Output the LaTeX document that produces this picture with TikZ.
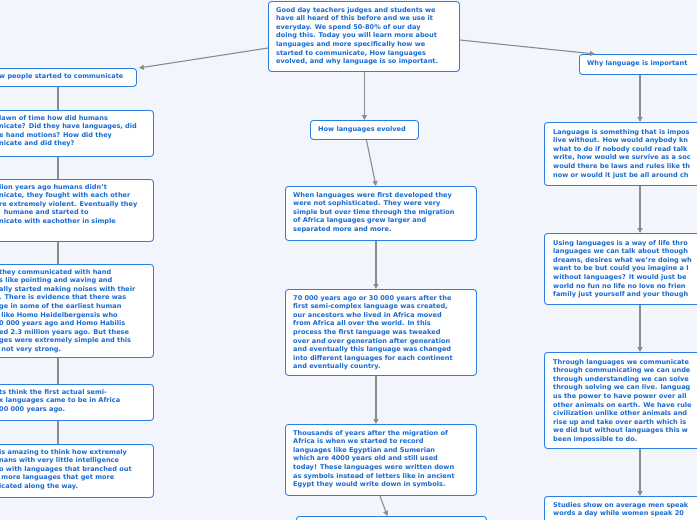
\documentclass[tikz,border=0pt]{standalone}
\usepackage{fontspec}
\setmainfont{DejaVu Sans}
\usetikzlibrary{arrows.meta}
\definecolor{bg}{HTML}{F2F5FC}
\definecolor{bd}{HTML}{2A7FE0}
\definecolor{tx}{HTML}{1A6AD0}
\definecolor{ln}{HTML}{8C8C8C}
\tikzset{
 box/.style={draw=bd,fill=white,rounded corners=3pt,line width=0.9pt,anchor=north west,inner sep=0pt},
 txt/.style={anchor=north west,align=left,text=tx,font=\fontsize{6.55}{8.6}\selectfont\bfseries,inner sep=0pt},
 con/.style={draw=ln,line width=1.1pt},
 arr/.style={con,-{Triangle[length=5pt,width=5pt]}}
}
\begin{document}
\begin{tikzpicture}[x=1pt,y=-1pt]
\fill[bg] (0,0) rectangle (697,520);
\useasboundingbox (0,0) rectangle (697,520);
\clip (0,0) rectangle (697,520);
% boxes
\node[box,minimum width=191pt,minimum height=70pt] (intro) at (268,1) {};
\node[box,minimum width=160pt,minimum height=18pt] (lh) at (-24,68) {};
\node[box,minimum width=177pt,minimum height=46pt] (l1) at (-24,110) {};
\node[box,minimum width=177pt,minimum height=62pt] (l2) at (-24,179) {};
\node[box,minimum width=177pt,minimum height=93pt] (l3) at (-24,264) {};
\node[box,minimum width=177pt,minimum height=36pt] (l4) at (-24,384) {};
\node[box,minimum width=177pt,minimum height=53pt] (l5) at (-24,444) {};
\node[box,minimum width=108pt,minimum height=19pt] (mh) at (310,120) {};
\node[box,minimum width=191pt,minimum height=54pt] (m1) at (285,186) {};
\node[box,minimum width=191pt,minimum height=86pt] (m2) at (285,289) {};
\node[box,minimum width=191pt,minimum height=71pt] (m3) at (285,424) {};
\node[box,minimum width=190pt,minimum height=30pt] (m4) at (296,516) {};
\node[box,minimum width=140pt,minimum height=20pt] (rh) at (579,54) {};
\node[box,minimum width=180pt,minimum height=63pt] (r1) at (544,122) {};
\node[box,minimum width=180pt,minimum height=71pt] (r2) at (544,233) {};
\node[box,minimum width=180pt,minimum height=96pt] (r3) at (544,352) {};
\node[box,minimum width=180pt,minimum height=40pt] (r4) at (544,496) {};
% texts
\node[txt] (tintro) at (276,7) {Good day teachers judges and students we\\have all heard of this before and we use it\\everyday. We spend 50-80\% of our day\\doing this. Today you will learn more about\\languages and more specifically how we\\started to communicate, How languages\\evolved, and why language is so important.};
\node[txt] (tlh) at (-1,73) {w people started to communicate};
\node[txt] (tl1) at (-1,115) {lawn of time how did humans\\nicate? Did they have languages, did\\e hand motions? How did they\\nicate and did they?};
\node[txt] (tl2) at (-1,184) {lion years ago humans didn't\\nicate, they fought with each other\\re extremely violent. Eventually they\\\ \ humane and started to\\nicate with eachother in simple};
\node[txt] (tl3) at (-1,269) {they communicated with hand\\s like pointing and waving and\\ally started making noises with their\\. There is evidence that there was\\ge in some of the earliest human\\\ like Homo Heidelbergensis who\\0 000 years ago and Homo Habilis\\ed 2.3 million years ago. But these\\ges were extremely simple and this\\\ not very strong.};
\node[txt] (tl4) at (-1,389) {ts think the first actual semi-\\x languages came to be in Africa\\00 000 years ago.};
\node[txt] (tl5) at (-1,449) {is amazing to think how extremely\\nans with very little intelligence\\o with languages that branched out\\\ more languages that get more\\icated along the way.};
\node[txt] (tmh) at (318,126) {How languages evolved};
\node[txt] (tm1) at (293,192) {When languages were first developed they\\were not sophisticated. They were very\\simple but over time through the migration\\of Africa languages grew larger and\\separated more and more.};
\node[txt] (tm2) at (293,295) {70 000 years ago or 30 000 years after the\\first semi-complex language was created,\\our ancestors who lived in Africa moved\\from Africa all over the world. In this\\process the first language was tweaked\\over and over generation after generation\\and eventually this language was changed\\into different languages for each continent\\and eventually country.};
\node[txt] (tm3) at (293,430) {Thousands of years after the migration of\\Africa is when we started to record\\languages like Egyptian and Sumerian\\which are 4000 years old and still used\\today! These languages were written down\\as symbols instead of letters like in ancient\\Egypt they would write down in symbols.};
\node[txt] (trh) at (587,60) {Why language is important};
\node[txt] (tr1) at (553,129) {Language is something that is impos\\live without. How would anybody kn\\what to do if nobody could read talk\\write, how would we survive as a soc\\would there be laws and rules like th\\now or would it just be all around ch};
\node[txt] (tr2) at (553,240) {Using languages is a way of life thro\\languages we can talk about though\\dreams, desires what we're doing wh\\want to be but could you imagine a l\\without languages? It would just be\\world no fun no life no love no frien\\family just yourself and your though};
\node[txt] (tr3) at (553,359) {Through languages we communicate\\through communicating we can unde\\through understanding we can solve\\through solving we can live. languag\\us the power to have power over all\\other animals on earth. We have rule\\civilization unlike other animals and\\rise up and take over earth which is\\we did but without languages this w\\been impossible to do.};
\node[txt] (tr4) at (553,502) {Studies show on average men speak\\words a day while women speak 20};
% connectors
\draw[arr] ([yshift=-47pt]intro.north west) -- ([xshift=2pt]lh.north east);
\draw[arr] ([yshift=-39pt]intro.north east) -- ([xshift=16pt]rh.north west);
\draw[arr] (intro.south -| mh.north) -- (mh.north);
\draw[arr] ([xshift=2pt]mh.south) -- ([xshift=-5pt]m1.north);
\draw[arr] ([xshift=-5pt]m1.south) -- ([xshift=-5pt]m2.north);
\draw[arr] ([xshift=-5pt]m2.south) -- ([xshift=-5pt]m3.north);
\draw[arr] ([xshift=-1pt]m3.south) -- ([xshift=-4pt]m4.north);
\foreach \a/\b in {lh/l1,l1/l2,l2/l3,l3/l4,l4/l5}
  \draw[con] ([xshift=82pt]\a.south west) -- ([xshift=82pt]\b.north west);
\draw[arr] ([xshift=61pt]rh.south west) -- ([xshift=96pt]r1.north west);
\foreach \a/\b in {r1/r2,r2/r3,r3/r4}
  \draw[arr] ([xshift=96pt]\a.south west) -- ([xshift=96pt]\b.north west);
\end{tikzpicture}
\end{document}
